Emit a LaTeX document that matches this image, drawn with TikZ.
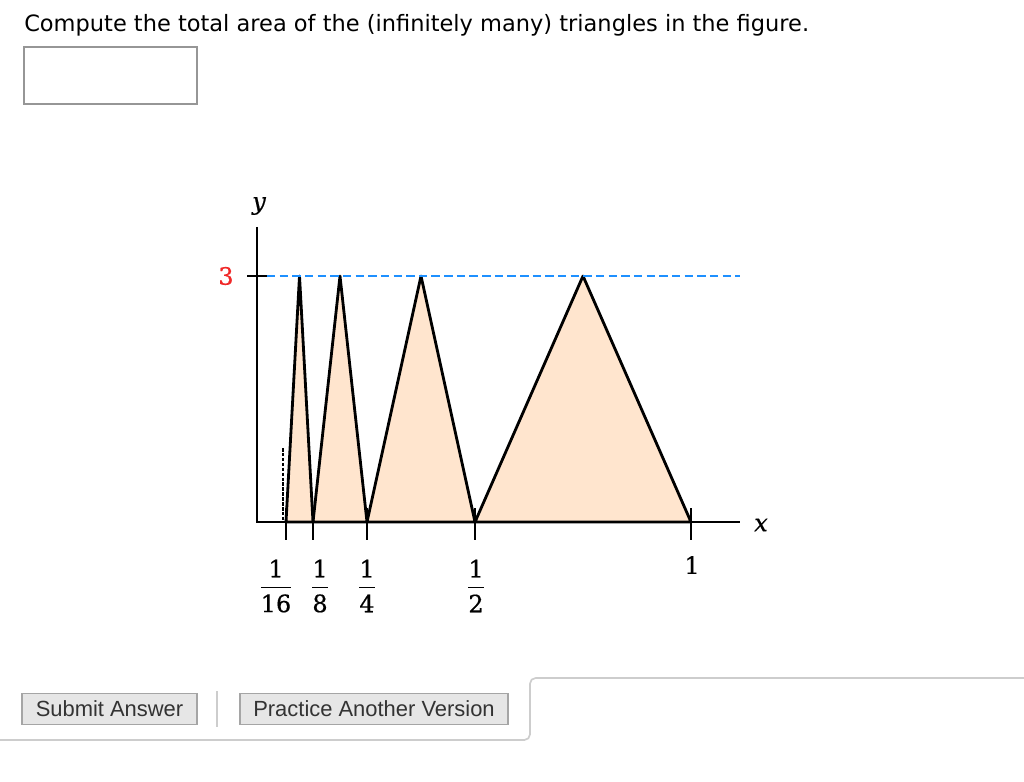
\documentclass[tikz,border=0pt]{standalone}
\usepackage{amsmath}
\usepackage{fontspec}
\setmainfont{DejaVu Sans}
\newfontfamily\plotfont[FakeBold=0.6]{DejaVu Serif}
\newfontfamily\btnfont{Liberation Sans}
\usetikzlibrary{positioning}
\definecolor{peach}{RGB}{255,229,206}
\definecolor{dodger}{RGB}{30,144,255}
\definecolor{btnfill}{RGB}{230,230,230}
\definecolor{btnline}{RGB}{165,165,165}
\definecolor{panelline}{RGB}{205,205,205}
\definecolor{boxline}{RGB}{150,150,150}
\definecolor{labelred}{RGB}{240,40,40}
\tikzset{
  tri/.style={fill=peach, draw=black, line width=2pt, line join=round},
  axis/.style={black, line width=1.9pt},
  tick/.style={black, line width=1.7pt},
  btn/.style={draw=btnline, fill=btnfill, line width=0.9pt, minimum height=22.5pt, inner sep=0pt, font=\btnfont\fontsize{15.6}{17}\selectfont, text=black!80},
  fraclabel/.style={font=\plotfont\fontsize{17}{19}\selectfont, inner sep=0pt},
  axlabel/.style={font=\plotfont\itshape\fontsize{17}{19}\selectfont, inner sep=0pt}
}
\newcommand{\fr}[2]{$\dfrac{\text{#1}\rule[-2.5pt]{0pt}{0pt}}{\text{#2}\rule{0pt}{15pt}}$}
\begin{document}
\begin{tikzpicture}[x=0.25mm,y=-0.25mm]
    \useasboundingbox (0,0) rectangle (1024,781);
    \node[anchor=base west, inner sep=0pt, font=\fontsize{16}{19}\selectfont] (question) at (24,32) {Compute the total area of the (infinitely many) triangles in the figure.};
    \draw[boxline, line width=1.4pt] (24,47) rectangle (197,104); % answer box

    \foreach \k in {1,...,4}{
    \pgfmathsetmacro{\l}{1/2^\k}
    \draw[tri] ({259+432*\l},522) -- ({259+432*1.5*\l},276) -- ({259+432*2*\l},522) -- cycle;
    } % triangles between 1/2^k and 2/2^k
    \draw[black, line width=1.5pt, dash pattern=on 2.5pt off 1pt] (283,448) -- (283,522);

    \draw[dodger, line width=1.9pt, dash pattern=on 6pt off 3pt] (267,276) -- (740,276);
    \draw[axis] (257,227) -- (257,522) -- (740,522);
    \draw[tick] (247,276) -- (267,276);
    \foreach \t in {0.0625,0.125,0.25,0.5,1}{
    \draw[tick] ({259+432*\t},508) -- ({259+432*\t},540);
    }

    \node[axlabel] (ylab) at (259,206) {y};
    \node[axlabel] (xlab) at (761,525) {x};
    \node[fraclabel, text=labelred] (three) at (226,276) {3};

    \node[fraclabel] (sixteenth) at (276,586) {\fr{1}{16}};
    \node[fraclabel] (eighth) at (320,586) {\fr{1}{8}};
    \node[fraclabel] (quarter) at (367,586) {\fr{1}{4}};
    \node[fraclabel] (half) at (476,586) {\fr{1}{2}};
    \node[fraclabel] (one) at (692,565) {1};

    \draw[panelline, line width=1.2pt, rounded corners=4pt] (0,740) -- (530,740) -- (530,678) -- (1024,678);
    \node[btn, minimum width=124.5pt] (submit) at (109.5,709) {Submit Answer};
    \node[btn, minimum width=190.6pt] (practice) at (374,709) {Practice Another Version};
    \draw[panelline, line width=1pt] (217,691) -- (217,727);
\end{tikzpicture}
\end{document}
